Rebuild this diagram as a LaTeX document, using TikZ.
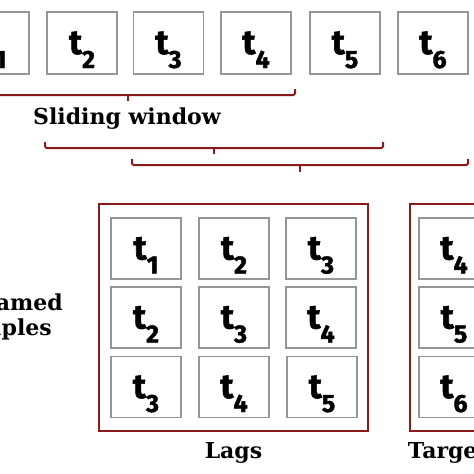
\documentclass[tikz,border=0pt]{standalone}
\usepackage{fontspec}
\setmainfont{DejaVu Serif}
\newfontfamily\tfont[FakeBold=1.6]{Fira Sans}
\definecolor{maroonred}{RGB}{139,26,26}
\definecolor{cellgray}{RGB}{150,150,150}
\newcommand\tsub[1]{t\raisebox{-14pt}{\fontsize{25}{25}\selectfont #1}}
\begin{document}
\begin{tikzpicture}[x=1pt,y=-1pt,
  cell/.style={draw=cellgray, line width=1.2pt, fill=white, minimum width=70pt,
    minimum height=62pt, inner sep=0pt, text height=30pt, text depth=8pt,
    font=\tfont\bfseries\fontsize{34}{34}\selectfont},
  gcell/.style={cell, minimum height=61pt},
  frame/.style={draw=maroonred, line width=2.6pt, inner sep=0pt},
  brace/.style={draw=maroonred, line width=2pt, rounded corners=1.5pt},
  lbl/.style={font=\bfseries\fontsize{22}{26}\selectfont, inner sep=0pt}]
\useasboundingbox (0,0) rectangle (474,474);
\fill[white] (0,0) rectangle (474,474);
% top row
\node[cell] (top1) at (-6,43) {\tsub{1}};
\node[cell] (top2) at (82,43) {\tsub{2}};
\node[cell] (top3) at (168.5,43) {\tsub{3}};
\node[cell] (top4) at (256,43) {\tsub{4}};
\node[cell] (top5) at (345,43) {\tsub{5}};
\node[cell] (top6) at (433,43) {\tsub{6}};
% sliding window brackets
\draw[brace] (-40,89) -- (-40,95) -- (295,95) -- (295,89);
\draw[brace] (127.5,95) -- (127.5,101);
\draw[brace] (45,142) -- (45,148) -- (383,148) -- (383,142);
\draw[brace] (214,148) -- (214,154);
\draw[brace] (132,159) -- (132,165) -- (468,165) -- (468,159);
\draw[brace] (300,165) -- (300,172);
\node[lbl, anchor=base] (sw) at (127,124) {Sliding window};
% frames
\node[frame, minimum width=269pt, minimum height=227pt] (lags) at (233.5,317.5) {};
\node[frame, minimum width=88pt, minimum height=227pt] (tgts) at (454,317.5) {};
% lag cells
\node[gcell] (l11) at (146,248.5) {\tsub{1}};
\node[gcell] (l12) at (234,248.5) {\tsub{2}};
\node[gcell] (l13) at (321,248.5) {\tsub{3}};
\node[gcell] (l21) at (146,317.5) {\tsub{2}};
\node[gcell] (l22) at (234,317.5) {\tsub{3}};
\node[gcell] (l23) at (321,317.5) {\tsub{4}};
\node[gcell] (l31) at (146,387) {\tsub{3}};
\node[gcell] (l32) at (234,387) {\tsub{4}};
\node[gcell] (l33) at (322,387) {\tsub{5}};
% target cells
\node[gcell] (g1) at (454,248.5) {\tsub{4}};
\node[gcell] (g2) at (454,317.5) {\tsub{5}};
\node[gcell] (g3) at (454,387) {\tsub{6}};
% labels
\node[lbl, anchor=base] (lagslbl) at (233.5,458) {Lags};
\node[lbl, anchor=base] (tgtlbl) at (454,458) {Targets};
\node[lbl, anchor=base east] (fr1) at (63,310) {Framed};
\node[lbl, anchor=base east] (fr2) at (52,335) {tuples};
\end{tikzpicture}
\end{document}
